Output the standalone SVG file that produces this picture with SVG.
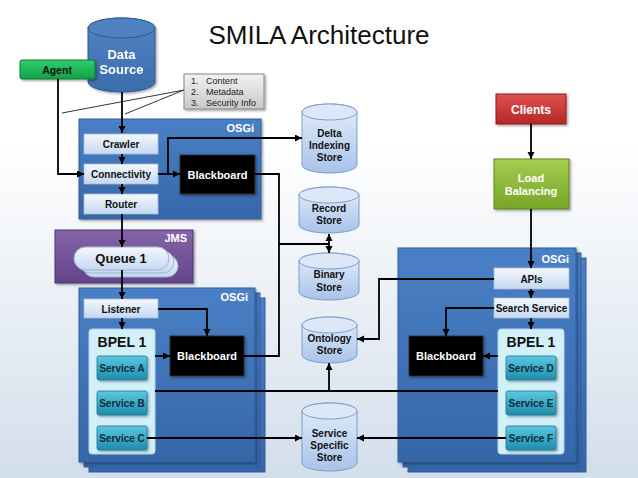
<svg xmlns="http://www.w3.org/2000/svg" width="638" height="478" viewBox="0 0 638 478">
<defs>
<linearGradient id="bg" x1="0" y1="0" x2="0" y2="1"><stop offset="0" stop-color="#ffffff"/><stop offset="0.3" stop-color="#ffffff"/><stop offset="1" stop-color="#d3deeb"/></linearGradient>
<linearGradient id="osgi" x1="0" y1="0" x2="0" y2="1"><stop offset="0" stop-color="#4a80c6"/><stop offset="1" stop-color="#3566a8"/></linearGradient>
<linearGradient id="lite" x1="0" y1="0" x2="0" y2="1"><stop offset="0" stop-color="#f4f8fd"/><stop offset="1" stop-color="#c5d8f0"/></linearGradient>
<linearGradient id="cyl" x1="0" y1="0" x2="0" y2="1"><stop offset="0" stop-color="#e4eefb"/><stop offset="1" stop-color="#a8c3ea"/></linearGradient>
<linearGradient id="svc" x1="0" y1="0" x2="0" y2="1"><stop offset="0" stop-color="#5cc8e0"/><stop offset="1" stop-color="#1f8cab"/></linearGradient>
<linearGradient id="jms" x1="0" y1="0" x2="0" y2="1"><stop offset="0" stop-color="#8565a8"/><stop offset="1" stop-color="#62438a"/></linearGradient>
<linearGradient id="grn" x1="0" y1="0" x2="0" y2="1"><stop offset="0" stop-color="#2ed06a"/><stop offset="1" stop-color="#12a046"/></linearGradient>
<linearGradient id="lb" x1="0" y1="0" x2="0" y2="1"><stop offset="0" stop-color="#a5cd4e"/><stop offset="1" stop-color="#77a528"/></linearGradient>
<linearGradient id="red" x1="0" y1="0" x2="0" y2="1"><stop offset="0" stop-color="#e05050"/><stop offset="1" stop-color="#b52828"/></linearGradient>
<linearGradient id="gry" x1="0" y1="0" x2="0" y2="1"><stop offset="0" stop-color="#f2f2f2"/><stop offset="1" stop-color="#c8c8c8"/></linearGradient>
<linearGradient id="ds" x1="0" y1="0" x2="0" y2="1"><stop offset="0" stop-color="#5284c4"/><stop offset="1" stop-color="#3c6cab"/></linearGradient>
<filter id="sh" x="-10%" y="-10%" width="130%" height="130%"><feDropShadow dx="1.5" dy="1.5" stdDeviation="1" flood-color="#000" flood-opacity="0.35"/></filter>
<marker id="ar" markerUnits="userSpaceOnUse" markerWidth="8" markerHeight="8" refX="7" refY="3.5" orient="auto"><path d="M0,0 L7,3.5 L0,7 z" fill="#000"/></marker>
<marker id="as" markerUnits="userSpaceOnUse" markerWidth="8" markerHeight="8" refX="0" refY="3.5" orient="auto"><path d="M7,0 L0,3.5 L7,7 z" fill="#000"/></marker>
</defs>
<style>
text{font-family:"Liberation Sans",Arial,sans-serif;text-anchor:middle}
.b{font-weight:bold}
.osgi{fill:url(#osgi);stroke:#2e5c9a;stroke-width:1}
.lite{fill:url(#lite);stroke:#a9bfdc;stroke-width:0.8}
.cyl{fill:url(#cyl);stroke:#7b9dcc;stroke-width:1}
.cylt{fill:#dce8f8;stroke:#7b9dcc;stroke-width:1}
.svc{fill:url(#svc);stroke:#1a7893;stroke-width:0.8}
.bb{fill:#000;stroke:#333;stroke-width:1}
.ln{fill:none;stroke:#000;stroke-width:1.8}
.wt{fill:#fff;font-weight:bold}
.dk{fill:#111;font-weight:bold}
</style>
<rect width="638" height="478" fill="url(#bg)"/>
<text x="319" y="44" font-size="26" fill="#111">SMILA Architecture</text>

<g id="datasource" filter="url(#sh)">
<path d="M88,28 A33.5,10 0 0 1 155,28 V82 A33.5,10 0 0 1 88,82 Z" fill="url(#ds)" stroke="#2d5a8e"/>
<ellipse cx="121.5" cy="28" rx="33.5" ry="10" fill="#4f80c0" stroke="#2d5a8e"/>
<text x="121.5" y="59" font-size="13" class="wt">Data</text>
<text x="121.5" y="74" font-size="13" class="wt">Source</text>
</g>
<g id="agent"><rect x="20" y="60" width="75" height="19" rx="2" fill="url(#grn)" stroke="#0e7a36" filter="url(#sh)"/><text x="57" y="73.5" font-size="10.5" class="dk">Agent</text></g>

<g id="callout">
<line x1="184" y1="90" x2="62" y2="113" stroke="#333" stroke-width="1"/>
<line x1="184" y1="90" x2="125" y2="114" stroke="#333" stroke-width="1"/>
<rect x="184" y="74" width="80" height="35" fill="url(#gry)" stroke="#888" filter="url(#sh)"/>
<g font-size="9" fill="#222"><text x="191" y="84" style="text-anchor:start">1.</text><text x="206" y="84" style="text-anchor:start">Content</text>
<text x="191" y="95" style="text-anchor:start">2.</text><text x="206" y="95" style="text-anchor:start">Metadata</text>
<text x="191" y="106" style="text-anchor:start">3.</text><text x="206" y="106" style="text-anchor:start">Security Info</text></g>
</g>

<g id="osgi-top">
<rect x="79" y="119" width="182" height="100" class="osgi" filter="url(#sh)"/>
<text x="254" y="132" font-size="11" class="wt" style="text-anchor:end">OSGi</text>
</g>
<g id="crawler"><rect x="84" y="134" width="74" height="20" class="lite"/><text x="121" y="148" font-size="10" class="dk">Crawler</text></g>
<g id="connectivity"><rect x="84" y="164" width="74" height="20" class="lite"/><text x="121" y="178" font-size="10" class="dk">Connectivity</text></g>
<g id="router"><rect x="84" y="194" width="74" height="20" class="lite"/><text x="121" y="208" font-size="10" class="dk">Router</text></g>
<g id="blackboard-top"><rect x="180" y="155" width="75" height="39" class="bb" filter="url(#sh)"/><text x="217.5" y="178.5" font-size="11" class="wt">Blackboard</text></g>

<g id="jms">
<rect x="55" y="230" width="138" height="53" fill="url(#jms)" stroke="#4e3470" filter="url(#sh)"/>
<text x="187" y="242" font-size="11" class="wt" style="text-anchor:end">JMS</text>
</g>
<g id="queue1">
<rect x="83" y="255" width="95" height="22" rx="11" fill="url(#lite)" stroke="#9fb4d0"/>
<rect x="79" y="251" width="95" height="22" rx="11" fill="url(#lite)" stroke="#9fb4d0"/>
<rect x="74" y="247" width="95" height="23" rx="11.5" fill="url(#lite)" stroke="#9fb4d0"/>
<text x="121" y="263" font-size="13" class="dk">Queue 1</text>
</g>

<g id="osgi-left">
<rect x="89" y="298" width="176" height="174" class="osgi"/>
<rect x="84" y="293" width="176" height="174" class="osgi"/>
<rect x="79" y="288" width="176" height="174" class="osgi" filter="url(#sh)"/>
<text x="248" y="301" font-size="11" class="wt" style="text-anchor:end">OSGi</text>
</g>
<g id="listener"><rect x="84" y="299" width="74" height="19" class="lite"/><text x="121" y="312.5" font-size="10" class="dk">Listener</text></g>
<g id="bpel-left">
<rect x="89" y="329" width="66" height="125" rx="3" fill="#d3f0f9" stroke="#a9d9ea"/>
<text x="122" y="347" font-size="14" class="dk">BPEL 1</text>
</g>
<g id="service-a"><rect x="97" y="356" width="50" height="24" rx="2" class="svc" filter="url(#sh)"/><text x="122" y="372" font-size="10" fill="#0c2d3a" class="b">Service A</text></g>
<g id="service-b"><rect x="97" y="391" width="50" height="24" rx="2" class="svc" filter="url(#sh)"/><text x="122" y="407" font-size="10" fill="#0c2d3a" class="b">Service B</text></g>
<g id="service-c"><rect x="97" y="426" width="50" height="24" rx="2" class="svc" filter="url(#sh)"/><text x="122" y="442" font-size="10" fill="#0c2d3a" class="b">Service C</text></g>
<g id="blackboard-left"><rect x="170" y="336" width="74" height="40" class="bb" filter="url(#sh)"/><text x="207" y="360" font-size="11" class="wt">Blackboard</text></g>

<g id="delta-store"><path d="M302,112 A27.5,8 0 0 1 357,112 V165 A27.5,8 0 0 1 302,165 Z" class="cyl"/><ellipse cx="329.5" cy="112" rx="27.5" ry="8" class="cylt"/>
<text x="329.5" y="137" font-size="10" class="dk">Delta</text><text x="329.5" y="149" font-size="10" class="dk">Indexing</text><text x="329.5" y="161" font-size="10" class="dk">Store</text></g>
<g id="record-store"><path d="M299,195 A30,8 0 0 1 359,195 V225 A30,8 0 0 1 299,225 Z" class="cyl"/><ellipse cx="329" cy="195" rx="30" ry="8" class="cylt"/>
<text x="329" y="212" font-size="10" class="dk">Record</text><text x="329" y="224" font-size="10" class="dk">Store</text></g>
<g id="binary-store"><path d="M299,261 A30,8 0 0 1 359,261 V292 A30,8 0 0 1 299,292 Z" class="cyl"/><ellipse cx="329" cy="261" rx="30" ry="8" class="cylt"/>
<text x="329" y="278" font-size="10" class="dk">Binary</text><text x="329" y="291" font-size="10" class="dk">Store</text></g>
<g id="ontology-store"><path d="M302,325 A27.5,8 0 0 1 357,325 V355 A27.5,8 0 0 1 302,355 Z" class="cyl"/><ellipse cx="329.5" cy="325" rx="27.5" ry="8" class="cylt"/>
<text x="329.5" y="342" font-size="10" class="dk">Ontology</text><text x="329.5" y="354" font-size="10" class="dk">Store</text></g>
<g id="service-specific-store"><path d="M302,411 A27.5,8 0 0 1 357,411 V463 A27.5,8 0 0 1 302,463 Z" class="cyl"/><ellipse cx="329.5" cy="411" rx="27.5" ry="8" class="cylt"/>
<text x="329.5" y="437" font-size="10" class="dk">Service</text><text x="329.5" y="449" font-size="10" class="dk">Specific</text><text x="329.5" y="461" font-size="10" class="dk">Store</text></g>

<g id="clients"><rect x="496" y="94" width="70" height="30" fill="url(#red)" stroke="#8e1c1c" filter="url(#sh)"/><text x="531" y="114" font-size="12" class="wt">Clients</text></g>
<g id="load-balancing"><rect x="494" y="159" width="75" height="50" fill="url(#lb)" stroke="#5e8520" filter="url(#sh)"/><text x="531" y="182" font-size="11" class="wt">Load</text><text x="531" y="195" font-size="11" class="wt">Balancing</text></g>

<g id="osgi-right">
<rect x="408" y="258" width="178" height="214" class="osgi"/>
<rect x="403" y="253" width="178" height="214" class="osgi"/>
<rect x="398" y="248" width="178" height="214" class="osgi" filter="url(#sh)"/>
<text x="569" y="263" font-size="11" class="wt" style="text-anchor:end">OSGi</text>
</g>
<g id="apis"><rect x="494" y="268" width="75" height="21" class="lite"/><text x="531.5" y="282.5" font-size="10" class="dk">APIs</text></g>
<g id="search-service"><rect x="494" y="298" width="75" height="20" class="lite"/><text x="531.5" y="312" font-size="10" class="dk">Search Service</text></g>
<g id="bpel-right">
<rect x="498" y="329" width="66" height="125" rx="3" fill="#d3f0f9" stroke="#a9d9ea"/>
<text x="531" y="347" font-size="14" class="dk">BPEL 1</text>
</g>
<g id="service-d"><rect x="506" y="356" width="50" height="24" rx="2" class="svc" filter="url(#sh)"/><text x="531" y="372" font-size="10" fill="#0c2d3a" class="b">Service D</text></g>
<g id="service-e"><rect x="506" y="391" width="50" height="24" rx="2" class="svc" filter="url(#sh)"/><text x="531" y="407" font-size="10" fill="#0c2d3a" class="b">Service E</text></g>
<g id="service-f"><rect x="506" y="426" width="50" height="24" rx="2" class="svc" filter="url(#sh)"/><text x="531" y="442" font-size="10" fill="#0c2d3a" class="b">Service F</text></g>
<g id="blackboard-right"><rect x="409" y="336" width="74" height="40" class="bb" filter="url(#sh)"/><text x="446" y="360" font-size="11" class="wt">Blackboard</text></g>

<g id="connectors" class="ln">
<path class="ln" d="M122,92 V133" marker-end="url(#ar)"/>
<path class="ln" d="M122,154 V164" marker-end="url(#ar)"/>
<path class="ln" d="M122,184 V194" marker-end="url(#ar)"/>
<path class="ln" d="M58,79 V174 H84" marker-end="url(#ar)"/>
<path class="ln" d="M158,174 H180" marker-end="url(#ar)"/>
<path class="ln" d="M168,174 V138 H302" marker-end="url(#ar)"/>
<path class="ln" d="M255,174 H279 V356 H244"/>
<path class="ln" d="M279,244 H329"/>
<path class="ln" d="M329,234 V253" marker-start="url(#as)" marker-end="url(#ar)"/>
<path class="ln" d="M122,214 V247" marker-end="url(#ar)"/>
<path class="ln" d="M122,270 V299" marker-end="url(#ar)"/>
<path class="ln" d="M122,318 V329" marker-end="url(#ar)"/>
<path class="ln" d="M158,309 H207 V336" marker-end="url(#ar)"/>
<path class="ln" d="M155,356 H170" marker-end="url(#ar)"/>
<path class="ln" d="M155,391 H498"/>
<path class="ln" d="M329,391 V363" marker-end="url(#ar)"/>
<path class="ln" d="M147,438 H302" marker-end="url(#ar)"/>
<path class="ln" d="M506,438 H357" marker-end="url(#ar)"/>
<path class="ln" d="M531,124 V159" marker-end="url(#ar)"/>
<path class="ln" d="M531,209 V268" marker-end="url(#ar)"/>
<path class="ln" d="M531,289 V298" marker-end="url(#ar)"/>
<path class="ln" d="M531,318 V329" marker-end="url(#ar)"/>
<path class="ln" d="M494,279 H379 V339 H357" marker-end="url(#ar)"/>
<path class="ln" d="M494,308 H446 V336" marker-end="url(#ar)"/>
<path class="ln" d="M498,356 H483" marker-end="url(#ar)"/>
</g>
</svg>
